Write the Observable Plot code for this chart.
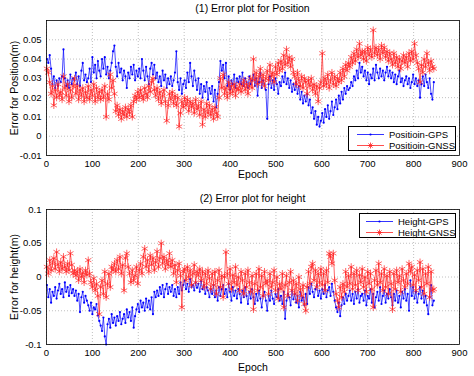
<!DOCTYPE html>
<html><head><meta charset="utf-8">
<script src="https://cdn.jsdelivr.net/npm/d3@7"></script>
<script src="https://cdn.jsdelivr.net/npm/@observablehq/plot@0.6"></script>
<style>
body{margin:0;background:#fff;font-family:"Liberation Sans",Arial,sans-serif;}
#wrap{position:relative;width:474px;height:376px;overflow:hidden;background:#fff}
.panel{position:absolute;left:0}
.title{position:absolute;left:46px;width:413px;text-align:center;font-size:10.5px;line-height:12px;color:#000}
.legend{position:absolute;background:#fff;border:1px solid #000;font-size:9.5px;color:#000;box-sizing:border-box}
.legend .row{position:absolute;left:0;height:11px;line-height:11px;white-space:nowrap}
.legend svg{position:absolute;top:0}
.legend span{position:absolute;top:0}
</style></head>
<body><div id="wrap"></div>
<script>
// Epoch sampling step (every 3rd epoch), data start at epoch 1
const epochStep = 3;
const xTicks = [0,100,200,300,400,500,600,700,800,900];
const posTicks = [-0.01,0,0.01,0.02,0.03,0.04,0.05];
const hTicks = [-0.1,-0.05,0,0.05,0.1];

const posGPS = [
0.040,0.038,0.042,0.035,0.027,0.031,0.025,0.029,0.026,0.030,
0.028,0.031,0.045,0.030,0.026,0.029,0.025,0.032,0.027,0.030,
0.029,0.033,0.027,0.031,0.026,0.034,0.038,0.029,0.032,0.028,
0.030,0.035,0.028,0.041,0.033,0.037,0.030,0.039,0.034,0.031,
0.040,0.035,0.041,0.032,0.036,0.030,0.034,0.038,0.044,0.047,
0.036,0.031,0.038,0.033,0.035,0.029,0.034,0.031,0.025,0.033,
0.030,0.036,0.032,0.037,0.029,0.034,0.031,0.035,0.030,0.040,
0.034,0.029,0.036,0.031,0.027,0.035,0.038,0.032,0.037,0.030,
0.033,0.028,0.031,0.026,0.034,0.029,0.032,0.025,0.030,0.027,
0.031,0.026,0.029,0.033,0.044,0.028,0.024,0.030,0.022,0.027,
0.029,0.025,0.033,0.028,0.038,0.031,0.026,0.034,0.029,0.024,
0.030,0.022,0.027,0.020,0.026,0.023,0.028,0.019,0.025,0.022,
0.026,0.018,0.024,0.015,0.022,0.028,0.039,0.034,0.037,0.030,
0.038,0.026,0.031,0.024,0.029,0.027,0.032,0.025,0.030,0.028,
0.031,0.027,0.033,0.026,0.030,0.028,0.025,0.031,0.027,0.029,
0.032,0.026,0.030,0.021,0.028,0.033,0.025,0.029,0.027,0.024,
0.009,0.027,0.031,0.025,0.029,0.024,0.030,0.027,0.022,0.028,
0.026,0.031,0.028,0.033,0.027,0.030,0.025,0.029,0.023,0.027,
0.024,0.028,0.022,0.026,0.019,0.023,0.017,0.021,0.018,0.022,
0.016,0.019,0.012,0.015,0.009,0.013,0.006,0.010,0.005,0.008,
0.012,0.007,0.014,0.010,0.016,0.009,0.013,0.018,0.011,0.015,
0.019,0.014,0.021,0.017,0.023,0.019,0.025,0.022,0.026,0.024,
0.025,0.028,0.026,0.031,0.029,0.034,0.030,0.038,0.033,0.036,
0.031,0.034,0.029,0.033,0.027,0.032,0.030,0.035,0.029,0.037,
0.033,0.030,0.035,0.031,0.034,0.029,0.033,0.036,0.031,0.034,
0.030,0.033,0.028,0.032,0.027,0.031,0.034,0.028,0.030,0.026,
0.029,0.031,0.027,0.030,0.025,0.028,0.032,0.027,0.030,0.026,
0.029,0.020,0.027,0.031,0.026,0.032,0.028,0.025,0.030,0.022,
0.019,0.028];

const posGNSS = [
0.035,0.033,0.028,0.022,0.026,0.016,0.024,0.020,0.027,0.021,
0.023,0.019,0.031,0.025,0.021,0.027,0.018,0.024,0.020,0.026,
0.030,0.022,0.026,0.019,0.024,0.021,0.025,0.018,0.023,0.020,
0.026,0.019,0.024,0.021,0.027,0.018,0.025,0.020,0.023,0.019,
0.024,0.020,0.026,0.010,0.022,0.019,0.032,0.025,0.029,0.022,
0.013,0.016,0.011,0.014,0.009,0.013,0.011,0.015,0.010,0.014,
0.012,0.016,0.010,0.018,0.021,0.019,0.023,0.020,0.024,0.021,
0.019,0.025,0.022,0.020,0.026,0.023,0.028,0.030,0.024,0.021,
0.025,0.019,0.023,0.017,0.021,0.024,0.018,0.008,0.016,0.022,
0.019,0.023,0.017,0.021,0.016,0.020,0.005,0.012,0.018,0.015,
0.020,0.016,0.019,0.013,0.018,0.015,0.017,0.012,0.019,0.014,
0.016,0.011,0.018,0.006,0.014,0.010,0.017,0.012,0.016,0.011,
0.014,0.009,0.015,0.012,0.010,0.020,0.030,0.025,0.032,0.022,
0.025,0.020,0.028,0.022,0.026,0.023,0.027,0.021,0.025,0.024,
0.027,0.023,0.026,0.029,0.024,0.027,0.022,0.026,0.030,0.025,
0.040,0.029,0.033,0.027,0.031,0.035,0.028,0.032,0.026,0.030,
0.034,0.029,0.037,0.031,0.033,0.028,0.036,0.032,0.038,0.034,
0.039,0.035,0.042,0.037,0.045,0.038,0.041,0.036,0.040,0.033,
0.031,0.027,0.033,0.029,0.026,0.031,0.025,0.030,0.028,0.022,
0.029,0.026,0.030,0.024,0.027,0.022,0.026,0.018,0.025,0.028,
0.043,0.026,0.030,0.027,0.032,0.025,0.029,0.033,0.027,0.031,
0.026,0.030,0.028,0.033,0.029,0.035,0.031,0.037,0.034,0.038,
0.036,0.041,0.038,0.043,0.039,0.045,0.041,0.048,0.042,0.044,
0.040,0.044,0.039,0.046,0.042,0.045,0.041,0.055,0.043,0.046,
0.042,0.045,0.040,0.047,0.043,0.046,0.041,0.044,0.039,0.043,
0.040,0.037,0.043,0.038,0.041,0.036,0.040,0.035,0.039,0.042,
0.038,0.041,0.036,0.043,0.039,0.044,0.040,0.048,0.042,0.038,
0.035,0.028,0.037,0.033,0.040,0.036,0.043,0.038,0.034,0.039,
0.036,0.035];

const hGPS = [
-0.012,-0.030,-0.018,-0.038,-0.022,-0.028,-0.015,-0.032,-0.020,-0.010,
-0.025,-0.018,-0.030,-0.008,-0.022,-0.015,-0.028,-0.012,-0.024,-0.018,
-0.028,-0.020,-0.035,-0.025,-0.052,-0.030,-0.022,-0.038,-0.028,-0.035,
-0.042,-0.050,-0.038,-0.055,-0.045,-0.048,-0.040,-0.057,-0.065,-0.072,
-0.080,-0.060,-0.088,-0.100,-0.070,-0.062,-0.075,-0.055,-0.068,-0.060,
-0.072,-0.058,-0.065,-0.052,-0.070,-0.062,-0.055,-0.068,-0.048,-0.060,
-0.052,-0.065,-0.045,-0.075,-0.058,-0.048,-0.040,-0.052,-0.035,-0.045,
-0.038,-0.050,-0.032,-0.045,-0.035,-0.048,-0.030,-0.055,-0.022,-0.030,
-0.020,-0.028,-0.015,-0.025,-0.012,-0.030,-0.018,-0.010,-0.025,-0.015,
-0.022,-0.012,-0.028,-0.018,-0.030,-0.015,-0.025,-0.008,-0.020,-0.012,
-0.005,-0.018,-0.010,-0.022,-0.003,-0.015,-0.012,-0.020,-0.008,-0.016,
-0.010,-0.022,-0.006,-0.018,-0.012,-0.025,-0.015,-0.020,-0.030,-0.018,
-0.025,-0.012,-0.030,-0.020,-0.035,-0.015,-0.028,-0.018,-0.012,-0.025,
-0.018,-0.030,-0.010,-0.022,-0.035,-0.015,-0.028,-0.020,-0.032,-0.018,
-0.025,-0.038,-0.020,-0.030,-0.015,-0.028,-0.040,-0.022,-0.032,-0.018,
-0.030,-0.040,-0.025,-0.035,-0.020,-0.032,-0.045,-0.028,-0.022,-0.035,
-0.050,-0.028,-0.035,-0.020,-0.032,-0.040,-0.025,-0.030,-0.018,-0.035,
-0.028,-0.040,-0.022,-0.062,-0.035,-0.025,-0.030,-0.042,-0.020,-0.033,
-0.025,-0.038,-0.028,-0.045,-0.022,-0.035,-0.030,-0.042,-0.025,-0.040,
-0.015,-0.025,-0.010,-0.022,-0.030,-0.018,-0.012,-0.028,-0.020,-0.032,
-0.018,-0.025,-0.012,-0.030,-0.020,-0.015,-0.028,-0.010,-0.022,-0.035,
-0.045,-0.052,-0.038,-0.058,-0.042,-0.030,-0.040,-0.025,-0.035,-0.028,
-0.020,-0.035,-0.025,-0.040,-0.022,-0.032,-0.018,-0.038,-0.028,-0.025,
-0.035,-0.020,-0.042,-0.028,-0.032,-0.018,-0.038,-0.025,-0.045,-0.030,
-0.022,-0.035,-0.015,-0.040,-0.028,-0.020,-0.038,-0.025,-0.032,-0.018,
-0.030,-0.042,-0.025,-0.035,-0.020,-0.038,-0.028,-0.045,-0.022,-0.032,
-0.018,-0.035,-0.025,-0.050,-0.005,-0.028,-0.015,-0.032,-0.022,-0.038,
-0.025,-0.015,-0.032,-0.020,-0.038,-0.028,-0.042,-0.055,-0.030,-0.012,
-0.042,-0.035];

const hGNSS = [
0.015,0.005,0.025,0.010,0.020,0.028,0.012,0.037,0.018,0.008,
0.022,0.012,0.030,0.015,0.008,0.020,0.010,0.035,0.018,0.005,
0.010,0.002,0.008,-0.005,0.012,0.000,0.006,-0.008,0.010,0.003,
0.025,0.005,-0.008,-0.015,-0.002,-0.020,-0.010,-0.028,-0.055,-0.015,
-0.005,-0.025,0.008,-0.030,-0.010,0.005,-0.015,0.015,0.010,0.020,
0.008,0.025,0.012,0.030,0.005,0.018,-0.020,0.028,0.035,0.015,
0.005,-0.008,0.010,-0.005,0.002,0.015,-0.010,0.010,0.020,0.005,
0.030,0.042,0.015,0.025,0.008,0.032,0.018,0.028,0.010,0.022,
0.038,0.015,0.028,0.050,0.020,0.030,0.012,0.025,0.018,0.035,
0.015,0.025,0.005,0.018,-0.008,0.010,0.020,0.002,-0.045,0.008,
0.012,-0.005,0.015,0.000,0.010,-0.012,0.005,0.018,-0.008,0.008,
0.002,0.012,-0.005,0.008,-0.015,0.005,-0.010,0.010,-0.002,-0.018,
0.005,-0.012,0.008,-0.025,-0.005,0.010,-0.015,0.002,-0.030,0.000,
0.037,0.005,-0.010,0.012,-0.018,0.003,-0.008,0.015,-0.012,0.000,
-0.020,0.008,-0.005,-0.025,0.005,-0.015,0.010,-0.008,-0.022,0.002,
-0.048,-0.010,0.005,-0.020,0.012,-0.015,0.002,-0.028,0.008,-0.010,
-0.005,-0.025,0.005,-0.015,-0.008,0.010,-0.020,0.000,-0.032,-0.010,
-0.018,0.005,-0.045,-0.012,0.002,-0.028,-0.008,0.008,-0.020,-0.005,
-0.025,-0.010,-0.035,0.000,-0.018,-0.028,-0.012,-0.040,-0.050,-0.015,
0.008,-0.010,0.015,0.020,-0.005,0.010,-0.015,0.005,-0.008,0.012,
-0.012,0.005,-0.020,0.010,-0.008,0.035,0.030,0.020,0.035,-0.005,
-0.025,-0.035,-0.045,-0.015,-0.030,-0.010,-0.022,0.008,-0.015,0.002,
-0.010,0.015,-0.018,0.005,-0.012,0.010,-0.020,0.003,-0.008,0.012,
-0.015,0.000,-0.022,0.008,-0.010,0.005,-0.018,-0.045,-0.005,0.010,
-0.012,0.020,-0.008,0.005,-0.020,0.012,-0.015,0.002,-0.025,0.008,
-0.010,-0.048,0.005,-0.018,0.010,-0.008,0.002,-0.022,0.012,-0.005,
-0.015,0.005,-0.010,0.020,0.008,0.015,-0.012,0.003,-0.020,0.010,
-0.005,0.022,-0.015,0.012,-0.025,0.005,-0.010,0.015,-0.030,0.008,
-0.020,-0.018];

const BLUE = "#0000ff", RED = "#ff2222";
const toRows = arr => arr.map((v, i) => ({epoch: 1 + i * epochStep, v}));
const fmt = d => String(+d.toFixed(3));

function panel({gps, gnss, yDomain, yTicks, yLabel, height, marginTop, marginBottom, xLabelOffset}) {
  const g = toRows(gps), n = toRows(gnss);
  const grid = {stroke: "#b0b0b0", strokeOpacity: 1, strokeDasharray: "1,2", strokeWidth: 0.8};
  const svg = Plot.plot({
    width: 474, height, marginLeft: 46, marginRight: 15, marginTop, marginBottom,
    style: {fontFamily: "Liberation Sans, Arial, sans-serif", fontSize: "9.5px", color: "#000", background: "transparent"},
    x: {domain: [0, 900], ticks: xTicks, tickFormat: fmt, tickSize: 0, tickPadding: 5,
        label: "Epoch", labelAnchor: "center", labelOffset: xLabelOffset, labelArrow: "none"},
    y: {domain: yDomain, ticks: yTicks, tickFormat: fmt, tickSize: 0, tickPadding: 5,
        label: yLabel, labelAnchor: "center", labelOffset: 36, labelArrow: "none"},
    marks: [
      Plot.gridX(xTicks, grid),
      Plot.gridY(yTicks, grid),
      Plot.line(g, {x: "epoch", y: "v", stroke: BLUE, strokeWidth: 0.7}),
      Plot.dot(g, {x: "epoch", y: "v", r: 1.1, fill: BLUE, stroke: null}),
      Plot.line(n, {x: "epoch", y: "v", stroke: RED, strokeWidth: 0.7}),
      Plot.dot(n, {x: "epoch", y: "v", symbol: "asterisk", r: 3.4, stroke: RED, strokeWidth: 0.7}),
      Plot.frame({stroke: "#000", strokeWidth: 0.8})
    ]
  });
  svg.querySelectorAll('[aria-label$="axis label"] text').forEach(t => {
    t.setAttribute("font-size", "10.5px");
    t.textContent = t.textContent.replace(/\s*[\u2190-\u2193]\s*/g, "").trim();
  });
  return svg;
}

function legend(parent, {left, top, width, height, lineX0, lineX1, textX, labels}) {
  const box = document.createElement("div");
  box.className = "legend";
  Object.assign(box.style, {left: left + "px", top: top + "px", width: width + "px", height: height + "px"});
  labels.forEach((lab, i) => {
    const row = document.createElement("div");
    row.className = "row";
    row.style.top = (2 + i * 11) + "px";
    row.style.width = width + "px";
    const col = i === 0 ? BLUE : RED;
    const mid = (lineX0 + lineX1) / 2 - left;
    const sym = i === 0
      ? `<circle cx="${mid}" cy="5.5" r="1.1" fill="${col}"/>`
      : `<g stroke="${col}" stroke-width="0.8"><line x1="${mid-3}" y1="5.5" x2="${mid+3}" y2="5.5"/><line x1="${mid}" y1="2.5" x2="${mid}" y2="8.5"/><line x1="${mid-2.1}" y1="3.4" x2="${mid+2.1}" y2="7.6"/><line x1="${mid-2.1}" y1="7.6" x2="${mid+2.1}" y2="3.4"/></g>`;
    row.innerHTML = `<svg width="${width}" height="11"><line x1="${lineX0-left}" y1="5.5" x2="${lineX1-left}" y2="5.5" stroke="${col}" stroke-width="0.8"/>${sym}</svg><span style="left:${textX-left}px">${lab}</span>`;
    box.appendChild(row);
  });
  parent.appendChild(box);
}

const wrap = document.getElementById("wrap");

const p1 = panel({gps: posGPS, gnss: posGNSS, yDomain: [-0.01, 0.06], yTicks: posTicks,
  yLabel: "Error for Position(m)", height: 190, marginTop: 20, marginBottom: 35, xLabelOffset: 22});
p1.classList.add("panel"); p1.style.top = "0px";
wrap.appendChild(p1);

const p2 = panel({gps: hGPS, gnss: hGNSS, yDomain: [-0.1, 0.1], yTicks: hTicks,
  yLabel: "Error for height(m)", height: 186, marginTop: 19, marginBottom: 32, xLabelOffset: 26});
p2.classList.add("panel"); p2.style.top = "190px";
wrap.appendChild(p2);

const t1 = document.createElement("div"); t1.className = "title"; t1.style.top = "2px";
t1.textContent = "(1) Error plot for Position"; wrap.appendChild(t1);
const t2 = document.createElement("div"); t2.className = "title"; t2.style.top = "192px";
t2.textContent = "(2) Error plot for height"; wrap.appendChild(t2);

legend(wrap, {left: 348, top: 126, width: 108, height: 25, lineX0: 356, lineX1: 383, textX: 388,
  labels: ["Positioin-GPS", "Positioin-GNSS"]});
legend(wrap, {left: 359, top: 213, width: 97, height: 25, lineX0: 365, lineX1: 392, textX: 397,
  labels: ["Height-GPS", "Height-GNSS"]});
</script></body></html>
